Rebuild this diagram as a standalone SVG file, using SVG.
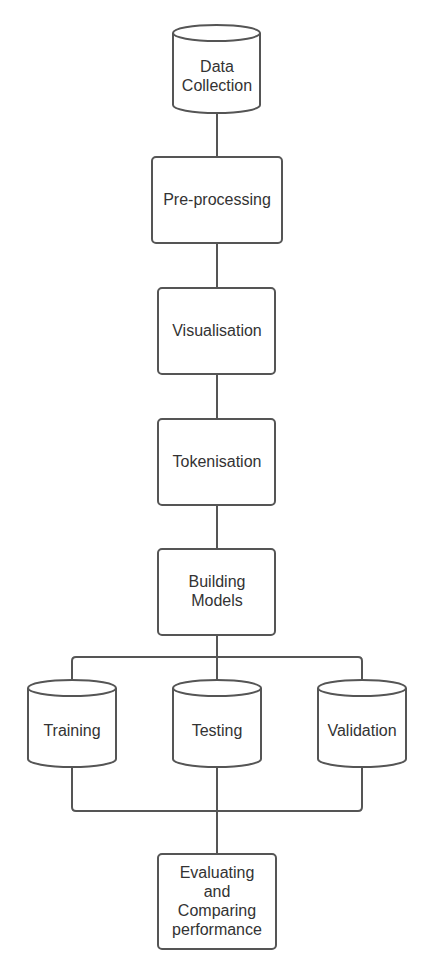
<svg xmlns="http://www.w3.org/2000/svg" width="430" height="967" viewBox="0 0 430 967">
<style>
.s{fill:#fff;stroke:#555;stroke-width:2}
.c{fill:none;stroke:#555;stroke-width:2}
text{font-family:"Liberation Sans",Arial,sans-serif;font-size:16px;fill:#333;text-anchor:middle}
</style>
<rect width="430" height="967" fill="#fff"/>
<g id="connectors">
<path class="c" d="M217 113V157"/>
<path class="c" d="M217 243V288"/>
<path class="c" d="M217 374V419"/>
<path class="c" d="M217 505V549"/>
<path class="c" d="M217 635V680"/>
<path class="c" d="M72 680V661Q72 657 76 657H358Q362 657 362 661V680"/>
<path class="c" d="M72 767V807Q72 811 76 811H358Q362 811 362 807V767"/>
<path class="c" d="M217 767V854"/>
</g>
<g id="data-collection">
<path class="s" d="M173 33A43.5 8 0 0 1 260 33V105A43.5 8 0 0 1 173 105Z"/>
<path class="c" d="M173 33A43.5 8 0 0 0 260 33"/>
<text x="217" y="72">Data</text>
<text x="217" y="91">Collection</text>
</g>
<g id="pre-processing">
<rect class="s" x="152" y="157" width="130" height="86" rx="4"/>
<text x="217" y="205">Pre-processing</text>
</g>
<g id="visualisation">
<rect class="s" x="158" y="288" width="117" height="86" rx="4"/>
<text x="217" y="336">Visualisation</text>
</g>
<g id="tokenisation">
<rect class="s" x="158" y="419" width="117" height="86" rx="4"/>
<text x="217" y="467">Tokenisation</text>
</g>
<g id="building-models">
<rect class="s" x="158" y="549" width="117" height="86" rx="4"/>
<text x="217" y="587">Building</text>
<text x="217" y="606">Models</text>
</g>
<g id="training">
<path class="s" d="M28 688A44 8 0 0 1 116 688V759A44 8 0 0 1 28 759Z"/>
<path class="c" d="M28 688A44 8 0 0 0 116 688"/>
<text x="72" y="736">Training</text>
</g>
<g id="testing">
<path class="s" d="M173 688A44 8 0 0 1 261 688V759A44 8 0 0 1 173 759Z"/>
<path class="c" d="M173 688A44 8 0 0 0 261 688"/>
<text x="217" y="736">Testing</text>
</g>
<g id="validation">
<path class="s" d="M318 688A44 8 0 0 1 406 688V759A44 8 0 0 1 318 759Z"/>
<path class="c" d="M318 688A44 8 0 0 0 406 688"/>
<text x="362" y="736">Validation</text>
</g>
<g id="evaluating">
<rect class="s" x="158" y="854" width="118" height="95" rx="4"/>
<text x="217" y="878">Evaluating</text>
<text x="217" y="897">and</text>
<text x="217" y="916">Comparing</text>
<text x="217" y="935">performance</text>
</g>
</svg>
